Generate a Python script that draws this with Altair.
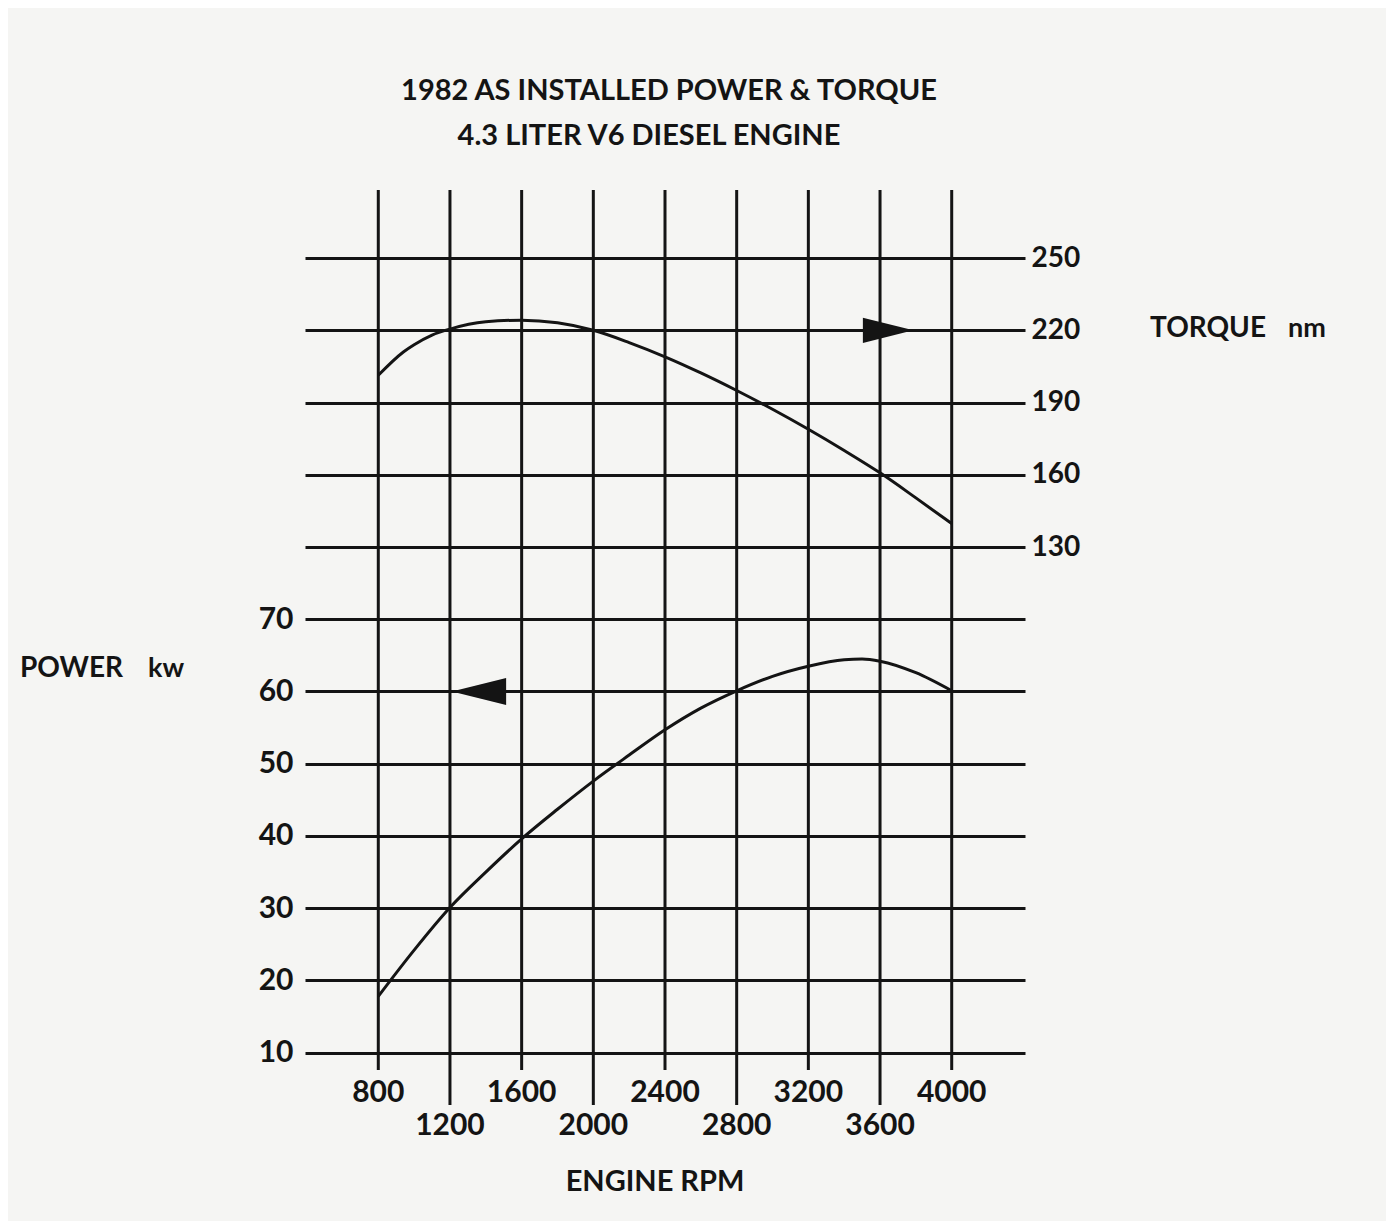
import altair as alt
import pandas as pd

INK = "#141414"
BG = "#f5f5f3"
FONT = "Lato"

# ---- data ----
rpm_ticks = [800, 1200, 1600, 2000, 2400, 2800, 3200, 3600, 4000]
power_ticks = [10, 20, 30, 40, 50, 60, 70]
torque_ticks = [130, 160, 190, 220, 250]

torque_rpm = [800, 940, 1000, 1100, 1200, 1400, 1600, 1800, 2000, 2200, 2400, 2600, 2800, 3000, 3200, 3400, 3600, 3800, 4000]
torque_nm = [201.3, 211.0, 214.0, 218.0, 220.5, 223.5, 224.2, 223.1, 220.0, 214.9, 209.0, 202.3, 195.0, 187.2, 178.9, 170.1, 160.8, 150.4, 139.7]

power_rpm = [800, 1000, 1200, 1400, 1600, 1800, 2000, 2200, 2400, 2600, 2800, 3000, 3200, 3400, 3500, 3600, 3800, 4000]
power_kw = [17.8, 24.2, 30.1, 35.0, 39.6, 43.7, 47.6, 51.2, 54.7, 57.7, 60.1, 62.1, 63.5, 64.4, 64.5, 64.2, 62.6, 60.1]

arrow_torque_rpm = [3645]
arrow_torque_nm = [220]
arrow_power_rpm = [1362]
arrow_power_kw = [60]

title_lines = ["1982 AS INSTALLED POWER & TORQUE", "4.3 LITER V6 DIESEL ENGINE"]
x_title = ["ENGINE RPM"]
power_title = ["POWER", "kw"]
torque_title = ["TORQUE", "nm"]

# ---- layout ----
W, H = 720, 915
x_scale = alt.Scale(domain=[391, 4409], nice=False, zero=False)
p_scale = alt.Scale(domain=[2.76, 129.42], nice=False, zero=False)
t_scale = alt.Scale(domain=[-101.72, 278.26], nice=False, zero=False)

ticks_df = pd.DataFrame({
    "rpm": rpm_ticks,
    "label": [str(v) for v in rpm_ticks],
    "row": [i % 2 for i in range(len(rpm_ticks))],
})
torque_df = pd.DataFrame({"rpm": torque_rpm, "nm": torque_nm})
power_df = pd.DataFrame({"rpm": power_rpm, "kw": power_kw})
arrow_t_df = pd.DataFrame({"rpm": arrow_torque_rpm, "nm": arrow_torque_nm})
arrow_p_df = pd.DataFrame({"rpm": arrow_power_rpm, "kw": arrow_power_kw})

X = alt.X("rpm:Q", scale=x_scale, axis=None)

power_axis = alt.Axis(
    values=power_ticks, grid=True, gridColor=INK, gridWidth=3, gridOpacity=1,
    domain=False, ticks=False, title=None, orient="left",
    labelFont=FONT, labelFontWeight="bold", labelFontSize=30, labelColor=INK,
    labelPadding=12,
)
torque_axis = alt.Axis(
    values=torque_ticks, grid=True, gridColor=INK, gridWidth=3, gridOpacity=1,
    domain=False, ticks=False, title=None, orient="right",
    labelFont=FONT, labelFontWeight="bold", labelFontSize=28, labelColor=INK,
    labelPadding=6,
)
YP = alt.Y("kw:Q", scale=p_scale, axis=power_axis)
YT = alt.Y("nm:Q", scale=t_scale, axis=torque_axis)

vr_even = alt.Chart(ticks_df).transform_filter("datum.row == 0").mark_rule(
    color=INK, strokeWidth=3).encode(x=X, y=alt.value(0), y2=alt.value(880))
vr_odd = alt.Chart(ticks_df).transform_filter("datum.row == 1").mark_rule(
    color=INK, strokeWidth=3).encode(x=X, y=alt.value(0), y2=alt.value(915))

txt = dict(font=FONT, fontWeight="bold", color=INK)

xl_even = alt.Chart(ticks_df).transform_filter("datum.row == 0").mark_text(
    fontSize=30, baseline="alphabetic", align="center", **txt).encode(
    x=X, y=alt.value(912), text="label:N")
xl_odd = alt.Chart(ticks_df).transform_filter("datum.row == 1").mark_text(
    fontSize=30, baseline="alphabetic", align="center", **txt).encode(
    x=X, y=alt.value(945), text="label:N")

power_line = alt.Chart(power_df).mark_line(
    color=INK, strokeWidth=3, interpolate="monotone").encode(x=X, y=YP)
power_arrow = alt.Chart(arrow_p_df).mark_point(
    shape="M1,-0.5L-1,0L1,0.5Z", size=2950, filled=True, color=INK, opacity=1,
    strokeWidth=0).encode(x=X, y=YP)

torque_line = alt.Chart(torque_df).mark_line(
    color=INK, strokeWidth=3, interpolate="monotone").encode(x=X, y=YT)
torque_arrow = alt.Chart(arrow_t_df).mark_point(
    shape="M-1,-0.5L1,0L-1,0.5Z", size=2550, filled=True, color=INK, opacity=1,
    strokeWidth=0).encode(x=X, y=YT)


def label(text, x, y, size, align="left"):
    return alt.Chart(pd.DataFrame({"t": [text]})).mark_text(
        fontSize=size, baseline="alphabetic", align=align, **txt).encode(
        x=alt.value(x), y=alt.value(y), text="t:N")


annotations = [
    label(title_lines[0], 364, -90, 29, "center"),
    label(title_lines[1], 344, -45, 29, "center"),
    label(x_title[0], 350, 1001, 29, "center"),
    label(power_title[0], -285, 487, 28),
    label(power_title[1], -157, 487, 27),
    label(torque_title[0], 845, 147, 28),
    label(torque_title[1], 983, 147, 27),
]

power_group = alt.layer(vr_even, vr_odd, power_line, power_arrow, xl_even, xl_odd, *annotations)
torque_group = alt.layer(torque_line, torque_arrow)

chart = alt.layer(power_group, torque_group).resolve_scale(y="independent").properties(
    width=W, height=H,
    padding={"left": 12, "top": 69, "right": 60, "bottom": 24},
    background=BG,
).configure_view(stroke=None)

chart.save("out.html", embed_options={"renderer": "svg", "actions": False})
